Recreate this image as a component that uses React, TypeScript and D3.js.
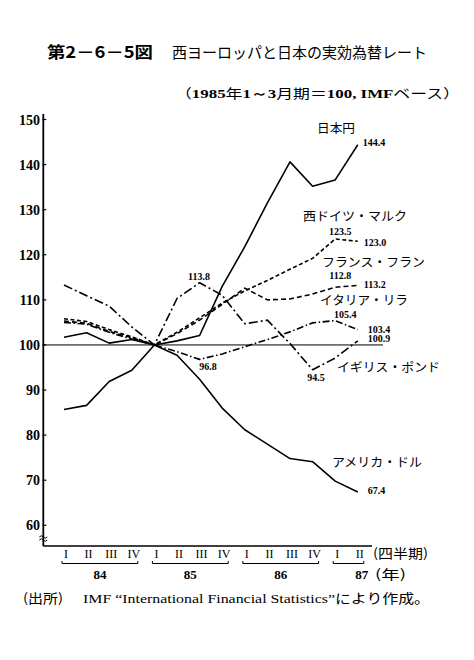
import React from "react";
import * as d3 from "d3";

// ---- data (1985 Q1 = 100, IMF basis) ----
const quarterLabels = ["I", "II", "III", "IV", "I", "II", "III", "IV", "I", "II", "III", "IV", "I", "II"];
const years = ["84", "85", "86", "87"];
const yearStart = [0, 4, 8, 12];
const yearEnd = [3, 7, 11, 13];
const yTicks = [60, 70, 80, 90, 100, 110, 120, 130, 140, 150];

const yen = [101.7, 102.7, 100.4, 101.2, 100, 100.9, 102.1, 113.0, 121.8, 131.5, 140.6, 135.2, 136.6, 144.4];
const usd = [85.7, 86.6, 91.9, 94.4, 100, 97.7, 92.4, 86.0, 81.2, 78.0, 74.8, 74.1, 69.8, 67.4];
const mark = [105.8, 105.2, 103.4, 101.8, 100, 102.8, 106.0, 109.3, 112.0, 114.3, 116.8, 119.2, 123.5, 123.0];
const franc = [105.3, 104.8, 103.0, 101.6, 100, 102.5, 105.5, 109.0, 112.6, 110.0, 110.2, 111.3, 112.8, 113.2];
const lira = [105.0, 104.6, 102.8, 101.3, 100, 98.5, 96.8, 98.0, 99.6, 101.2, 102.9, 104.9, 105.4, 103.4];
const pound = [113.3, 110.9, 108.6, 104.0, 100, 110.3, 113.8, 111.0, 104.7, 105.5, 100.3, 94.5, 97.1, 100.9];

const seriesNames = ["日本円", "西ドイツ・マルク", "フランス・フラン", "イタリア・リラ", "イギリス・ポンド", "アメリカ・ドル"];
const seriesValues = [yen, mark, franc, lira, pound, usd];
const seriesDash = ["none", "4,2.5", "5,3", "7,2.5,1.5,2.5", "9,3,2,3", "none"];

// value annotations: series index and quarter index
const annotSeries = [0, 1, 1, 2, 2, 3, 3, 4, 4, 4, 3, 5];
const annotIndex = [13, 12, 13, 12, 13, 12, 13, 13, 11, 6, 6, 13];

// layout offsets for annotations (dx, dy, anchor)
const annotLayout: [number, number, string][] = [
  [5, 1, "start"],
  [5, -4, "middle"],
  [6, 4.7, "start"],
  [5, -8.6, "middle"],
  [6, 2.4, "start"],
  [10, -3, "middle"],
  [10, 3, "start"],
  [10, 1.3, "start"],
  [3.5, 11.3, "middle"],
  [-0.5, -3, "middle"],
  [8.5, 10.2, "middle"],
  [10, 2.4, "start"],
];
// name label layout: x, baseline y, textLength
const nameLayout: [number, number, number][] = [
  [317, 133, 38],
  [303, 220.5, 104],
  [322, 267, 103],
  [320, 305, 88],
  [337, 372, 103],
  [332, 467, 90],
];

const SERIF = "'Liberation Serif', 'DejaVu Serif', serif";
const CJK = "'Noto Sans CJK JP', 'Noto Sans CJK SC', sans-serif";

export default function App() {
  const W = 474, H = 660;
  const x = d3.scaleLinear().domain([0, 13]).range([64, 357.8]);
  const y = d3.scaleLinear().domain([60, 150]).range([525.3, 119.5]);
  const line = d3.line<number>().x((_, i) => x(i)).y((v) => y(v));
  const axisX = 43.3;
  const axisBottom = 546;

  return (
    <svg width={W} height={H} style={{ position: "absolute", left: 0, top: 0, background: "#fff" }}>
      <rect x={0} y={0} width={W} height={H} fill="#fff" />
      {/* title */}
      <text x={47} y={58} fontFamily={CJK} fontSize={16} fontWeight={700} textLength={106} lengthAdjust="spacingAndGlyphs">第2－6－5図</text>
      <text x={172} y={58} fontFamily={CJK} fontSize={15} fontWeight={400} textLength={255} lengthAdjust="spacingAndGlyphs">西ヨーロッパと日本の実効為替レート</text>
      {/* subtitle */}
      <text x={175} y={98} fontSize={13} textLength={285} lengthAdjust="spacingAndGlyphs">
        <tspan fontFamily={CJK}>（</tspan>
        <tspan fontFamily={SERIF} fontWeight={700}>1985</tspan>
        <tspan fontFamily={CJK}>年</tspan>
        <tspan fontFamily={SERIF} fontWeight={700}>1～3</tspan>
        <tspan fontFamily={CJK}>月期＝</tspan>
        <tspan fontFamily={SERIF} fontWeight={700}>100, IMF</tspan>
        <tspan fontFamily={CJK}>ベース）</tspan>
      </text>

      {/* axes */}
      <line x1={axisX} x2={axisX} y1={114} y2={axisBottom} stroke="#000" strokeWidth={1.8} />
      <line x1={axisX} x2={372} y1={axisBottom} y2={axisBottom} stroke="#000" strokeWidth={1.6} />
      {/* break mark */}
      <path d={`M${axisX - 4},${537} q2,-2.5 4,0 t4,0`} fill="none" stroke="#000" strokeWidth={1} />
      <path d={`M${axisX - 4},${540} q2,-2.5 4,0 t4,0`} fill="none" stroke="#000" strokeWidth={1} />
      {yTicks.map((t) => (
        <g key={t}>
          <line x1={axisX - 1} x2={axisX + 3} y1={y(t)} y2={y(t)} stroke="#000" strokeWidth={1.2} />
          <text x={40} y={y(t) + 5} textAnchor="end" fontFamily={SERIF} fontWeight={700} fontSize={14}>{t}</text>
        </g>
      ))}
      {/* 100 reference line */}
      <line x1={axisX} x2={383} y1={y(100)} y2={y(100)} stroke="#000" strokeWidth={1} />

      {/* series */}
      {seriesValues.map((vals, k) => (
        <path key={k} d={line(vals) || ""} fill="none" stroke="#000" strokeWidth={1.6}
          strokeDasharray={seriesDash[k]} strokeLinejoin="round" />
      ))}

      {/* series names */}
      {seriesNames.map((n, k) => (
        <text key={n} x={nameLayout[k][0]} y={nameLayout[k][1]} fontFamily={CJK} fontSize={12.5}
          textLength={nameLayout[k][2]} lengthAdjust="spacingAndGlyphs">{n}</text>
      ))}

      {/* value annotations */}
      {annotSeries.map((s, k) => {
        const i = annotIndex[k];
        const v = seriesValues[s][i];
        const l = annotLayout[k];
        return (
          <text key={k} x={x(i) + l[0]} y={y(v) + l[1]} textAnchor={l[2] as any}
            fontFamily={SERIF} fontWeight={700} fontSize={10}>{v.toFixed(1)}</text>
        );
      })}

      {/* quarter labels */}
      {quarterLabels.map((q, i) => (
        <text key={i} x={x(i) + 2} y={558} textAnchor="middle" fontFamily={SERIF} fontSize={12}>{q}</text>
      ))}
      {/* year brackets */}
      {years.map((yr, k) => {
        const x1 = x(yearStart[k]) - 2;
        const x2 = x(yearEnd[k]) + 6;
        const cx = k === 3 ? x(yearEnd[k]) + 4 : (x1 + x2) / 2;
        return (
          <g key={yr}>
            <path d={`M${x1},${561} V${563.5} H${x2} V${561}`} fill="none" stroke="#000" strokeWidth={1} />
            <text x={cx} y={579} textAnchor="middle" fontFamily={SERIF} fontWeight={700} fontSize={13}>{yr}</text>
          </g>
        );
      })}
      <text x={373} y={558} fontFamily={CJK} fontSize={13} textLength={55} lengthAdjust="spacingAndGlyphs">(四半期)</text>
      <text x={375} y={579} fontFamily={CJK} fontSize={13} textLength={31} lengthAdjust="spacingAndGlyphs">(年)</text>

      {/* source */}
      <text x={23} y={603} fontFamily={CJK} fontSize={13} textLength={40} lengthAdjust="spacingAndGlyphs">(出所)</text>
      <text x={83} y={603} fontSize={13} textLength={347} lengthAdjust="spacingAndGlyphs">
        <tspan fontFamily={SERIF}>IMF “International Financial Statistics”</tspan>
        <tspan fontFamily={CJK}>により作成。</tspan>
      </text>
    </svg>
  );
}
